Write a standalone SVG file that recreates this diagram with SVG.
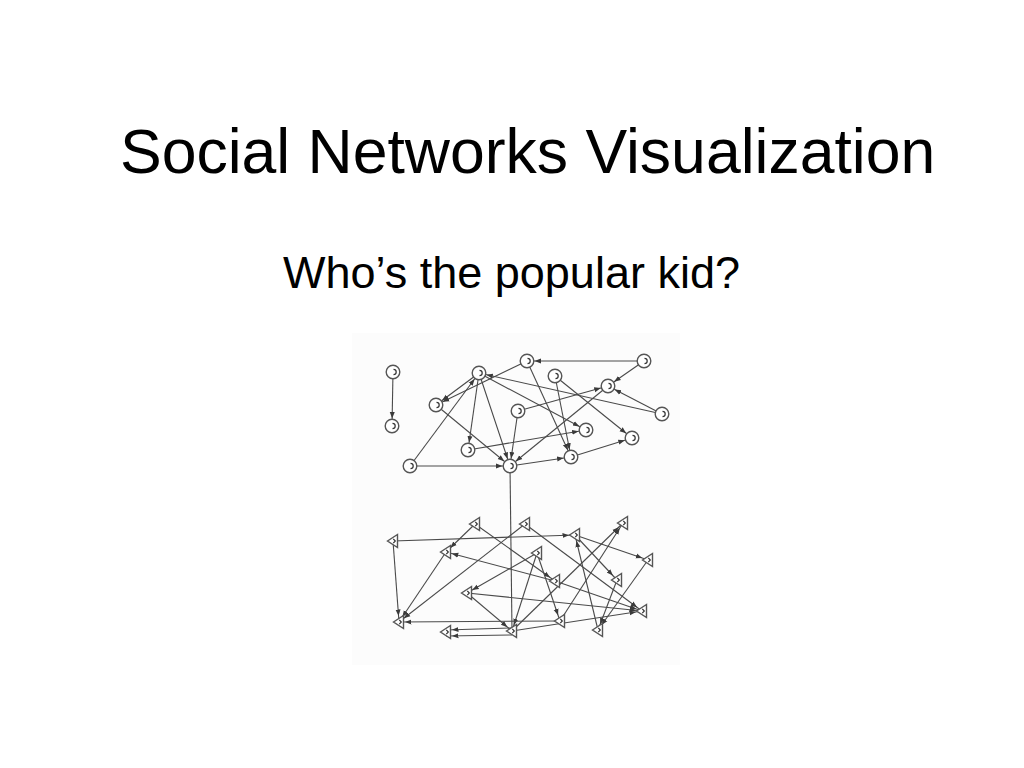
<svg xmlns="http://www.w3.org/2000/svg" xmlns:xlink="http://www.w3.org/1999/xlink" width="1024" height="768" viewBox="0 0 1024 768">
<style>
.title{font-family:"Liberation Sans",Arial,sans-serif;fill:#000}
.cn circle{fill:#fff;stroke:#555;stroke-width:1.4}
.tn polygon{fill:#fff;stroke:#555;stroke-width:1.4}
.mk{fill:none;stroke:#333;stroke-width:1.2}
#connectors line{stroke:#4a4a4a;stroke-width:1.1;fill:none}
.ac{marker-end:url(#arrC)}
.at{marker-end:url(#arrT)}
</style>
<defs>
<marker id="arrC" markerUnits="userSpaceOnUse" markerWidth="16" markerHeight="8" refX="14" refY="4" orient="auto"><path d="M0,1.5 L6.5,4 L0,6.5 z" fill="#3a3a3a"/></marker>
<marker id="arrT" markerUnits="userSpaceOnUse" markerWidth="16" markerHeight="8" refX="12.5" refY="4" orient="auto"><path d="M0,1.5 L6.5,4 L0,6.5 z" fill="#3a3a3a"/></marker>
<g id="circ" class="cn"><circle cx="0" cy="0" r="6.8"/><path class="mk" d="M0.5,-2.7 A2.7,2.7 0 1 1 0.5,2.7"/></g>
<g id="tri" class="tn"><polygon points="-5.5,0 4.5,-6.5 4.5,6.5"/><path class="mk" d="M0.3,-2.2 L2.3,0 L0.3,2.2"/></g>
</defs>
<rect width="1024" height="768" fill="#fff"/>
<rect x="352" y="333" width="328" height="332" fill="#fcfcfc"/>
<text class="title" x="120" y="173" font-size="62.5">Social Networks Visualization</text>
<text class="title" x="283" y="288" font-size="45">Who’s the popular kid?</text>
<g id="connectors">
<line class="ac" x1="393" y1="372" x2="392" y2="426"/>
<line class="ac" x1="644" y1="361" x2="527" y2="361"/>
<line class="ac" x1="644" y1="361" x2="608" y2="386"/>
<line class="ac" x1="662" y1="414" x2="608" y2="386"/>
<line class="ac" x1="479" y1="373" x2="436" y2="405"/>
<line class="ac" x1="527" y1="361" x2="436" y2="405"/>
<line class="ac" x1="410" y1="466" x2="479" y2="373"/>
<line class="ac" x1="479" y1="373" x2="468" y2="450"/>
<line class="ac" x1="479" y1="373" x2="510" y2="466"/>
<line class="ac" x1="662" y1="414" x2="479" y2="373"/>
<line class="ac" x1="479" y1="373" x2="586" y2="430"/>
<line class="ac" x1="436" y1="405" x2="510" y2="466"/>
<line class="ac" x1="410" y1="466" x2="510" y2="466"/>
<line class="ac" x1="468" y1="450" x2="586" y2="430"/>
<line class="ac" x1="518" y1="411" x2="510" y2="466"/>
<line class="ac" x1="518" y1="411" x2="608" y2="386"/>
<line class="ac" x1="608" y1="386" x2="510" y2="466"/>
<line class="ac" x1="510" y1="466" x2="571" y2="457"/>
<line class="ac" x1="571" y1="457" x2="632" y2="438"/>
<line class="ac" x1="555" y1="376" x2="571" y2="457"/>
<line class="ac" x1="555" y1="376" x2="632" y2="438"/>
<line class="ac" x1="527" y1="361" x2="571" y2="457"/>
<line x1="512" y1="631" x2="510" y2="466"/>
<line class="at" x1="393" y1="541" x2="575" y2="535"/>
<line class="at" x1="393" y1="541" x2="399" y2="622"/>
<line class="at" x1="475" y1="524" x2="446" y2="552"/>
<line class="at" x1="475" y1="524" x2="555" y2="581"/>
<line class="at" x1="555" y1="581" x2="446" y2="552"/>
<line class="at" x1="446" y1="552" x2="399" y2="622"/>
<line class="at" x1="525" y1="524" x2="399" y2="622"/>
<line class="at" x1="525" y1="524" x2="642" y2="611"/>
<line class="at" x1="575" y1="535" x2="648" y2="560"/>
<line class="at" x1="575" y1="535" x2="617" y2="580"/>
<line class="at" x1="598" y1="630" x2="575" y2="535"/>
<line class="at" x1="560" y1="621" x2="623" y2="523"/>
<line class="at" x1="512" y1="631" x2="623" y2="523"/>
<line class="at" x1="648" y1="560" x2="598" y2="630"/>
<line class="at" x1="617" y1="580" x2="598" y2="630"/>
<line class="at" x1="537" y1="553" x2="512" y2="631"/>
<line class="at" x1="537" y1="553" x2="560" y2="621"/>
<line class="at" x1="467" y1="593" x2="642" y2="611"/>
<line class="at" x1="467" y1="593" x2="512" y2="631"/>
<line class="at" x1="560" y1="621" x2="399" y2="622"/>
<line class="at" x1="512" y1="628" x2="446" y2="630"/>
<line class="at" x1="512" y1="635" x2="446" y2="636"/>
<line class="at" x1="512" y1="631" x2="642" y2="611"/>
<line class="at" x1="537" y1="553" x2="467" y2="593"/>
<line class="at" x1="555" y1="581" x2="642" y2="611"/>
</g>
<g id="c1"><use xlink:href="#circ" x="393" y="372"/></g>
<g id="c2"><use xlink:href="#circ" x="392" y="426"/></g>
<g id="c3"><use xlink:href="#circ" x="479" y="373"/></g>
<g id="c4"><use xlink:href="#circ" x="527" y="361"/></g>
<g id="c5"><use xlink:href="#circ" x="644" y="361"/></g>
<g id="c6"><use xlink:href="#circ" x="555" y="376"/></g>
<g id="c7"><use xlink:href="#circ" x="608" y="386"/></g>
<g id="c8"><use xlink:href="#circ" x="436" y="405"/></g>
<g id="c9"><use xlink:href="#circ" x="518" y="411"/></g>
<g id="c10"><use xlink:href="#circ" x="662" y="414"/></g>
<g id="c11"><use xlink:href="#circ" x="586" y="430"/></g>
<g id="c12"><use xlink:href="#circ" x="632" y="438"/></g>
<g id="c13"><use xlink:href="#circ" x="468" y="450"/></g>
<g id="c14"><use xlink:href="#circ" x="571" y="457"/></g>
<g id="c15"><use xlink:href="#circ" x="410" y="466"/></g>
<g id="c16"><use xlink:href="#circ" x="510" y="466"/></g>
<g id="t1"><use xlink:href="#tri" x="475" y="524"/></g>
<g id="t2"><use xlink:href="#tri" x="525" y="524"/></g>
<g id="t3"><use xlink:href="#tri" x="623" y="523"/></g>
<g id="t4"><use xlink:href="#tri" x="393" y="541"/></g>
<g id="t5"><use xlink:href="#tri" x="575" y="535"/></g>
<g id="t6"><use xlink:href="#tri" x="446" y="552"/></g>
<g id="t7"><use xlink:href="#tri" x="537" y="553"/></g>
<g id="t8"><use xlink:href="#tri" x="648" y="560"/></g>
<g id="t9"><use xlink:href="#tri" x="555" y="581"/></g>
<g id="t10"><use xlink:href="#tri" x="617" y="580"/></g>
<g id="t11"><use xlink:href="#tri" x="467" y="593"/></g>
<g id="t12"><use xlink:href="#tri" x="642" y="611"/></g>
<g id="t13"><use xlink:href="#tri" x="399" y="622"/></g>
<g id="t14"><use xlink:href="#tri" x="560" y="621"/></g>
<g id="t15"><use xlink:href="#tri" x="446" y="632"/></g>
<g id="t16"><use xlink:href="#tri" x="512" y="631"/></g>
<g id="t17"><use xlink:href="#tri" x="598" y="630"/></g>
</svg>
